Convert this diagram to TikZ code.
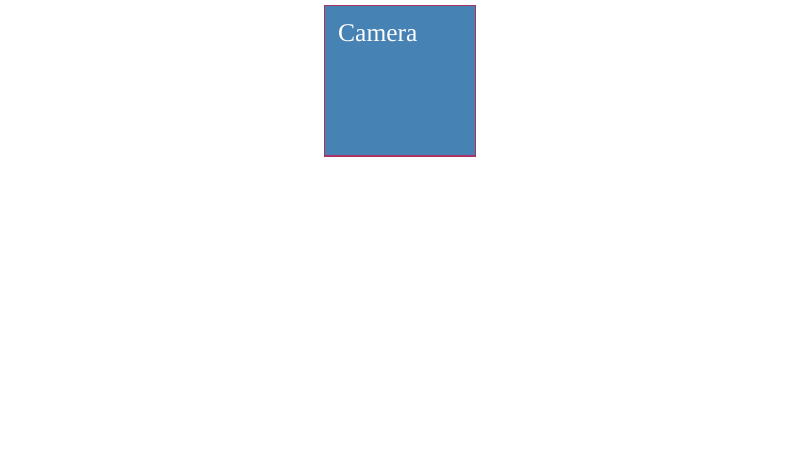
\documentclass[tikz,border=0pt]{standalone}
\usepackage{fontspec}
\setmainfont{Liberation Serif}
\definecolor{steel}{RGB}{70,130,180}
\definecolor{rim}{RGB}{170,50,100}
\begin{document}
\begin{tikzpicture}[x=1pt,y=1pt]
\useasboundingbox (0,0) rectangle (800,450);
\draw [fill=steel, draw=rim, line width=1.2pt] (324.6,444.6) rectangle (475.4,294);
\node [anchor=base west, inner sep=0pt, text=white, font=\fontsize{25.5}{30}\selectfont] (camera) at (338,408) {Camera};
\end{tikzpicture}
\end{document}
